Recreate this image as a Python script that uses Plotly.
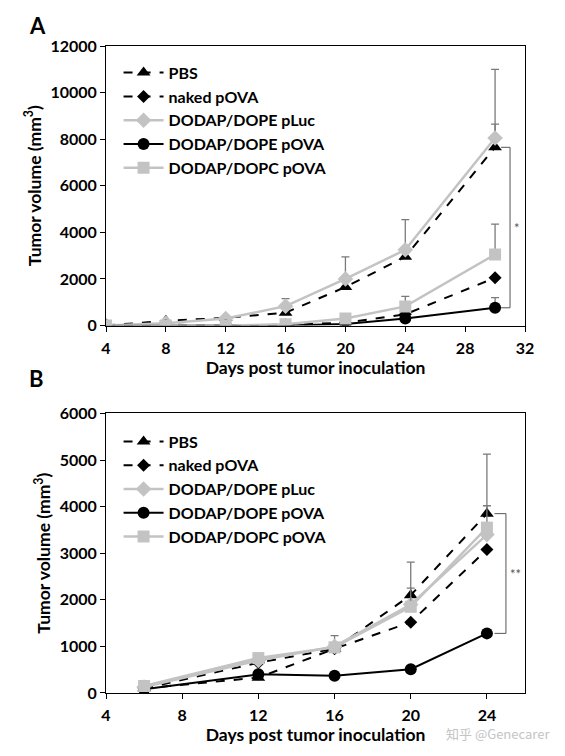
import plotly.graph_objects as go
from plotly.subplots import make_subplots

# panel A data
days_a = [4, 8, 12, 16, 20, 24, 30]
pbs_a = [0, 200, 330, 550, 1650, 2950, 7650]
naked_a = [0, 30, 20, 30, 120, 480, 2050]
pluc_a = [0, 100, 300, 830, 2000, 3250, 8050]
dope_a = [0, 0, 0, 0, 60, 300, 760]
dopc_a = [0, 0, 0, 50, 300, 820, 3050]
# upper error bars (SD), None = not shown
pbs_sd_a = [None, None, None, None, None, None, 1000]
naked_sd_a = [None] * 7
pluc_sd_a = [None, None, None, 320, 950, 1300, 2950]
dope_sd_a = [None, None, None, None, None, None, 440]
dopc_sd_a = [None, None, None, None, None, 430, 1300]

# panel B data
days_b = [6, 12, 16, 20, 24]
pbs_b = [100, 330, 950, 2100, 3850]
naked_b = [100, 650, 950, 1520, 3080]
pluc_b = [130, 700, 1000, 1900, 3400]
dope_b = [80, 400, 370, 510, 1280]
dopc_b = [150, 750, 980, 1850, 3550]
pbs_sd_b = [None, None, None, 710, 1280]
naked_sd_b = [None] * 5
pluc_sd_b = [None, None, 230, None, None]
dope_sd_b = [None] * 5
dopc_sd_b = [None, None, None, 400, 470]

names = ['PBS', 'naked pOVA', 'DODAP/DOPE pLuc', 'DODAP/DOPE pOVA', 'DODAP/DOPC pOVA']

FONT = 'Lato'
GRAY = '#c3c3c3'
styles = [
    dict(line=dict(color='black', width=2, dash='dash'), marker=dict(symbol='triangle-up', size=12, color='black')),
    dict(line=dict(color='black', width=2, dash='dash'), marker=dict(symbol='diamond', size=10, color='black')),
    dict(line=dict(color=GRAY, width=2.5), marker=dict(symbol='diamond', size=12, color=GRAY)),
    dict(line=dict(color='black', width=2), marker=dict(symbol='circle', size=12, color='black')),
    dict(line=dict(color=GRAY, width=2.5), marker=dict(symbol='square', size=12, color=GRAY)),
]

fig = make_subplots(rows=2, cols=1, vertical_spacing=0.136)


def add_panel(row, days, series, sds, legend):
    for name, ys, sd, st in zip(names, series, sds, styles):
        fig.add_trace(go.Scatter(
            x=days, y=ys, name=name, mode='lines+markers',
            line=st['line'], marker=st['marker'],
            error_y=dict(type='data', array=sd, arrayminus=[0] * len(sd), symmetric=False,
                         color='#7a7a7a', thickness=1.3, width=4),
            legend=legend, showlegend=True,
        ), row=row, col=1)


add_panel(1, days_a, [pbs_a, naked_a, pluc_a, dope_a, dopc_a],
          [pbs_sd_a, naked_sd_a, pluc_sd_a, dope_sd_a, dopc_sd_a], 'legend')
add_panel(2, days_b, [pbs_b, naked_b, pluc_b, dope_b, dopc_b],
          [pbs_sd_b, naked_sd_b, pluc_sd_b, dope_sd_b, dopc_sd_b], 'legend2')


# significance brackets, from PBS down to DODAP/DOPE pOVA at the last day
def bracket(xref, yref, x0, x1, top, bottom, label):
    for y in (top, bottom):
        fig.add_shape(type='line', xref=xref, yref=yref, x0=x0, x1=x1, y0=y, y1=y,
                      line=dict(color='#555555', width=1))
    fig.add_shape(type='line', xref=xref, yref=yref, x0=x1, x1=x1, y0=top, y1=bottom,
                  line=dict(color='#555555', width=1))
    fig.add_annotation(xref=xref, yref=yref, x=x1, y=(top + bottom) / 2, text=label,
                       showarrow=False, xanchor='left', xshift=2,
                       font=dict(family=FONT, size=13, color='#555555'))


bracket('x', 'y', days_a[-1] + 0.4, days_a[-1] + 1.0, pbs_a[-1], dope_a[-1], '*')
bracket('x2', 'y2', days_b[-1] + 0.4, days_b[-1] + 1.0, pbs_b[-1], dope_b[-1], '**')

axis_font = dict(family=FONT, size=16, color='black', weight='bold')
title_font = dict(family=FONT, size=17.5, color='black', weight='bold')
common_x = dict(showline=True, linecolor='black', linewidth=1, mirror=True, ticks='outside',
                ticklen=5, tickcolor='black', showgrid=False, zeroline=False,
                tickfont=axis_font, title_font=title_font, dtick=4, tick0=4,
                ticklabelstandoff=3,
                title_text='Days post tumor inoculation', title_standoff=2)
common_y = dict(showline=True, linecolor='black', linewidth=1, mirror=True, ticks='outside',
                ticklen=5, tickcolor='black', showgrid=False, zeroline=False,
                tickfont=axis_font, title_font=title_font, tickformat='d',
                title_text='Tumor volume (mm<sup>3</sup>)', title_standoff=4)

fig.update_xaxes(**common_x, range=[4, 32], row=1, col=1)
fig.update_xaxes(**common_x, range=[4, 26], row=2, col=1)
fig.update_yaxes(**common_y, range=[0, 12000], dtick=2000, row=1, col=1)
fig.update_yaxes(**common_y, range=[0, 6000], dtick=1000, row=2, col=1)

legend_style = dict(font=dict(family=FONT, size=16, color='black', weight='bold'),
                    bgcolor='rgba(0,0,0,0)', itemwidth=40, tracegroupgap=0,
                    xanchor='left', yanchor='top')
fig.update_layout(
    width=565, height=756,
    margin=dict(l=98, r=48, t=38, b=71),
    plot_bgcolor='white', paper_bgcolor='white',
    font=dict(family=FONT, color='black'),
    legend=dict(**legend_style, x=0.03, y=0.985),
    legend2=dict(**legend_style, x=0.03, y=0.415),
)

for txt, yy in (('A', 1.031), ('B', 0.486)):
    fig.add_annotation(xref='paper', yref='paper', x=-0.185, y=yy, text=txt,
                       showarrow=False, xanchor='left', yanchor='middle', borderpad=0,
                       font=dict(family=FONT, size=22, color='black', weight='bold'))

fig.add_annotation(xref='paper', yref='paper', x=1.065, y=-0.062, text='知乎 @Genecarer',
                   showarrow=False, xanchor='right', yanchor='middle',
                   font=dict(family='Noto Sans CJK SC', size=13, color='#c4c4c4'))

fig.write_html("out.html")
